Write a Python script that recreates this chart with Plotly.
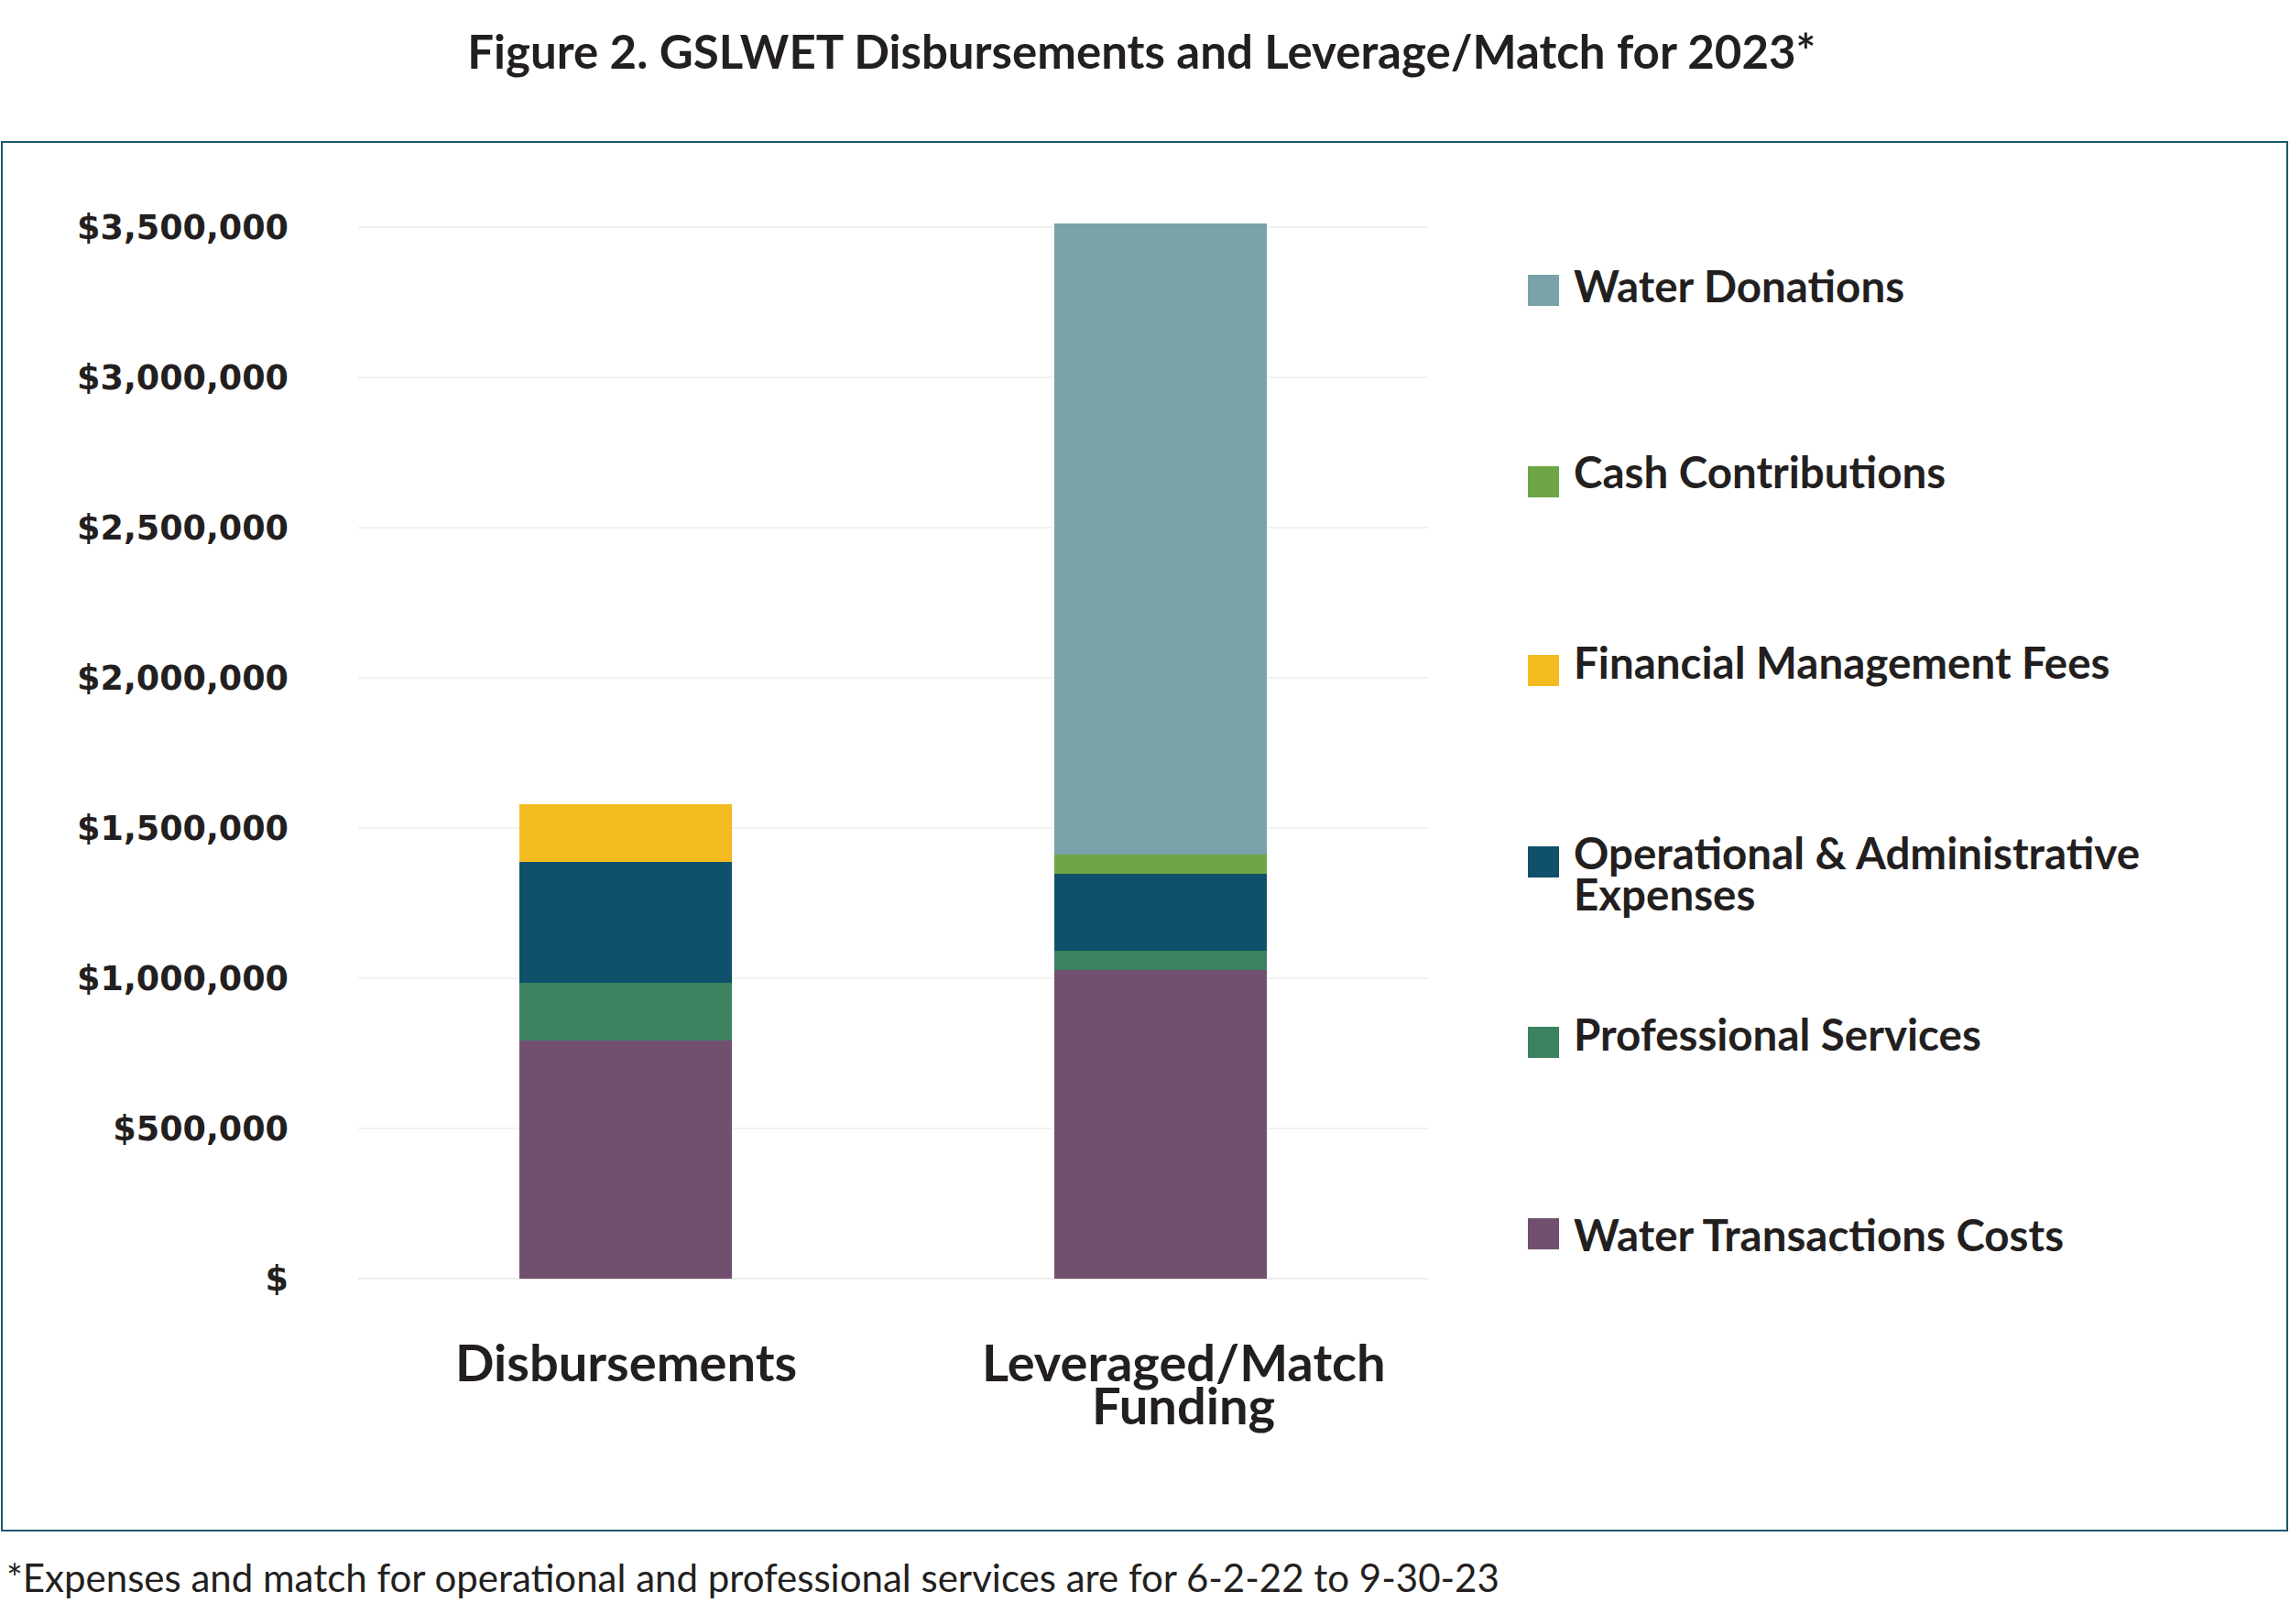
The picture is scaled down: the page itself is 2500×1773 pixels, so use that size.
import plotly.graph_objects as go

# ---------------- data ----------------
categories = ["Disbursements", "Leveraged/Match<br>Funding"]
series_names = [
    "Water Transactions Costs",
    "Professional Services",
    "Operational & Administrative<br>Expenses",
    "Financial Management Fees",
    "Cash Contributions",
    "Water Donations",
]
water_transactions = [793000, 1029000]
professional_services = [191000, 63000]
operational_admin = [403000, 255000]
financial_mgmt_fees = [192000, None]
cash_contributions = [None, 64000]
water_donations = [None, 2101000]
series_values = [water_transactions, professional_services, operational_admin,
                 financial_mgmt_fees, cash_contributions, water_donations]
colors = ["#71506F", "#3D8260", "#0F516B", "#F3BB20", "#6EA645", "#79A3A8"]
y_tick_values = [0, 500000, 1000000, 1500000, 2000000, 2500000, 3000000, 3500000]
y_tick_labels = ["$" if v == 0 else "${:,.0f}".format(v) for v in y_tick_values]

title_text = "Figure 2. GSLWET Disbursements and Leverage/Match for 2023*"
footnote_text = "*Expenses and match for operational and professional services are for 6-2-22 to 9-30-23"

# ---------------- layout geometry ----------------
W, H = 2500, 1773
ML, MR, MT, MB = 391, 941, 232, 377
PW, PH = W - ML - MR, H - MT - MB

def px_x(px):
    return (px - ML) / PW

def px_y(py):
    return (H - MB - py) / PH

TXT = "#231F20"
font_bold = dict(family="Lato", color=TXT, weight=700)

fig = go.Figure()
for name, vals, col in zip(series_names, series_values, colors):
    fig.add_trace(go.Bar(
        x=categories, y=vals, name=name,
        marker=dict(color=col, line=dict(width=0)),
        showlegend=False,
    ))

fig.update_layout(
    width=W, height=H,
    barmode="stack", bargap=0.604,
    paper_bgcolor="white", plot_bgcolor="white",
    margin=dict(l=ML, r=MR, t=MT, b=MB),
    title=dict(text=title_text, x=0.4985, xanchor="center",
               y=1 - 57 / H, yanchor="middle", yref="container",
               font=dict(size=51, **font_bold)),
)
fig.update_xaxes(showticklabels=False, showgrid=False, showline=False,
                 zeroline=False, ticks="")
fig.update_yaxes(range=[0, 3.55e6], tickvals=y_tick_values, ticktext=y_tick_labels,
                 showgrid=True, gridcolor="#F2F2F2", gridwidth=2,
                 zeroline=True, zerolinecolor="#EDEDED", zerolinewidth=2,
                 showline=False, ticks="", ticklabelstandoff=75,
                 tickfont=dict(family="DejaVu Sans", size=36.5, color=TXT, weight=700))

# category labels (tight line spacing like the original)
label_xshift = [0, 25]
for cat, xs in zip(categories, label_xshift):
    for j, line in enumerate(cat.split("<br>")):
        fig.add_annotation(x=cat, xref="x", y=0, yref="y", yanchor="middle",
                           yshift=-(1486 - (H - MB)) - j * 47, xshift=xs,
                           text=line, showarrow=False,
                           font=dict(size=56, **font_bold))

# legend (top entry first)
legend_square_cy = [1347, 1138, 941, 732, 526, 317]
legend_text_cy = [1347, 1128, 930, 722, 514, 311]
SQ = 34
for name, col, scy, tcy in zip(series_names, colors, legend_square_cy, legend_text_cy):
    fig.add_shape(type="rect", xref="paper", yref="paper",
                  x0=px_x(1668), x1=px_x(1668 + SQ),
                  y0=px_y(scy + SQ / 2), y1=px_y(scy - SQ / 2),
                  fillcolor=col, line=dict(width=0))
    for j, line in enumerate(name.split("<br>")):
        fig.add_annotation(xref="paper", yref="paper", x=px_x(1716), xanchor="left",
                           y=px_y(tcy + j * 46), yanchor="middle",
                           text=line, showarrow=False, align="left",
                           font=dict(size=47.5, **font_bold))

# outer frame
fig.add_shape(type="rect", xref="paper", yref="paper",
              x0=px_x(2), x1=px_x(2497), y0=px_y(1671), y1=px_y(155),
              line=dict(color="#1C5870", width=2), fillcolor="rgba(0,0,0,0)",
              layer="below")

# footnote
fig.add_annotation(xref="paper", yref="paper", x=px_x(5), xanchor="left",
                   y=px_y(1722), yanchor="middle", text=footnote_text,
                   showarrow=False, font=dict(family="Lato", size=42, color=TXT))

fig.write_html("out.html")
